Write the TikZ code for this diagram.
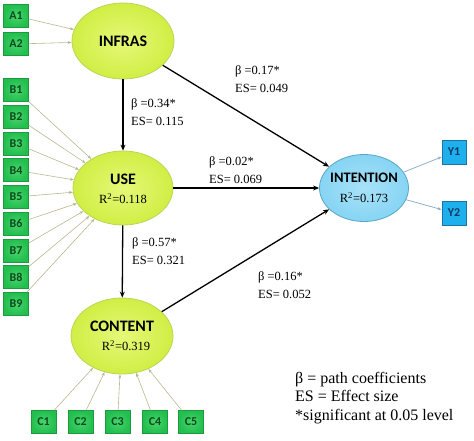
\documentclass[tikz,border=0pt]{standalone}
\usepackage{fontspec}
\setmainfont{Liberation Serif}
\newfontfamily\carl{Carlito}
\usetikzlibrary{arrows.meta,shapes.geometric}
\definecolor{limefill}{HTML}{D0EE44}
\definecolor{limein}{HTML}{E6F878}
\definecolor{limeedge}{HTML}{B9D65A}
\definecolor{bluefill}{HTML}{86D4F4}
\definecolor{bluein}{HTML}{A8E2F8}
\definecolor{blueedge}{HTML}{5AA6C6}
\definecolor{gbox}{HTML}{22BE4E}
\definecolor{gboxin}{HTML}{48D46C}
\definecolor{gedge}{HTML}{1C9A40}
\definecolor{gtext}{HTML}{0E4A1E}
\definecolor{ybox}{HTML}{1EB0EC}
\definecolor{yedge}{HTML}{1B74A4}
\definecolor{ytext}{HTML}{0C3866}
\definecolor{indline}{HTML}{B8B890}
\definecolor{yline}{HTML}{8FB0C4}
\tikzset{
  x=1pt,y=-1pt,
  lat/.style={ellipse,draw=limeedge,line width=0.8pt,inner color=limein,outer color=limefill},
  latb/.style={ellipse,draw=blueedge,line width=0.8pt,inner color=bluein,outer color=bluefill},
  gind/.style={draw=gedge,line width=0.6pt,inner color=gboxin,outer color=gbox,minimum width=25pt,minimum height=23pt,inner sep=0pt,font=\carl\bfseries\fontsize{12}{14}\selectfont,text=gtext},
  yind/.style={draw=yedge,line width=0.6pt,fill=ybox,minimum width=24pt,minimum height=24pt,inner sep=0pt,font=\carl\bfseries\fontsize{12}{14}\selectfont,text=ytext},
  title/.style={font=\carl\bfseries\fontsize{16}{18}\selectfont},
  rsq/.style={font=\fontsize{12.5}{14}\selectfont},
  coef/.style={anchor=west,align=left,font=\fontsize{12.5}{17.5}\selectfont,inner sep=0pt},
  indarr/.style={draw=indline,line width=0.6pt,-{Stealth[length=4pt,width=3pt]}},
  yarr/.style={draw=yline,line width=0.8pt,-{Stealth[length=4pt,width=3pt]}},
  patharr/.style={draw=black,line width=1.3pt,-{Stealth[length=6pt,width=5pt]}}
}
\begin{document}
\begin{tikzpicture}
\useasboundingbox (0,0) rectangle (474,440);
% latent nodes
\node[lat,minimum width=102pt,minimum height=76pt] (infras) at (123,41) {};
\node[title] (infrast) at (123,41) {INFRAS};
\node[lat,minimum width=100pt,minimum height=74pt] (use) at (123,188) {};
\node[title] (uset) at (123,179) {USE};
\node[rsq] (user) at (123,199) {R\textsuperscript{2}=0.118};
\node[lat,minimum width=102pt,minimum height=76pt] (content) at (122,336) {};
\node[title] (contentt) at (122,326) {CONTENT};
\node[rsq] (contentr) at (126,346) {R\textsuperscript{2}=0.319};
\node[latb,minimum width=89pt,minimum height=67pt] (intent) at (364,188) {};
\node[title,font=\carl\bfseries\fontsize{14.5}{16}\selectfont] (intentt) at (364,178) {INTENTION};
\node[rsq] (intentr) at (364,198) {R\textsuperscript{2}=0.173};
% indicators
\node[gind] (A1) at (16,16) {A1};
\node[gind] (A2) at (16,44) {A2};
\foreach \i in {1,...,9}{
  \node[gind] (B\i) at (16,{90+26.75*(\i-1)}) {B\i};
}
\foreach \i/\x in {1/43.5,2/80.5,3/117.5,4/155,5/191}{
  \node[gind] (C\i) at (\x,422) {C\i};
}
\node[yind] (Y1) at (454,152) {Y1};
\node[yind] (Y2) at (454,213) {Y2};
% indicator arrows
\foreach \n in {A1,A2} \draw[indarr] (\n) -- (infras);
\foreach \i in {1,...,9} \draw[indarr] (B\i) -- (use);
\foreach \i in {1,...,5} \draw[indarr] (C\i) -- (content);
\draw[yarr] (intent) -- (Y1);
\draw[yarr] (intent) -- (Y2);
% structural paths
\draw[patharr] (infras) -- (use);
\draw[patharr] (use) -- (content);
\draw[patharr] (infras) -- (intent);
\draw[patharr] (use) -- (intent);
\draw[patharr] (content) -- (intent);
% coefficients
\node[coef] (c1) at (131,112) {β =0.34*\\ES= 0.115};
\node[coef] (c2) at (132,251) {β =0.57*\\ES= 0.321};
\node[coef] (c3) at (235,79) {β =0.17*\\ES= 0.049};
\node[coef] (c4) at (209,170) {β =0.02*\\ES= 0.069};
\node[coef] (c5) at (258,285) {β =0.16*\\ES= 0.052};
% legend
\node[anchor=west,align=left,inner sep=0pt,font=\fontsize{16}{18.5}\selectfont] (legend) at (295,398) {β = path coefficients\\ES = Effect size\\*significant at 0.05 level};
\end{tikzpicture}
\end{document}
